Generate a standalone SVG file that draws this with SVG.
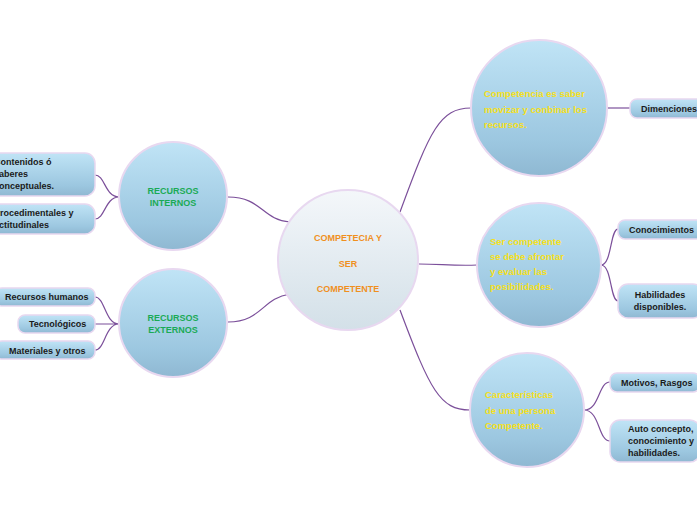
<svg xmlns="http://www.w3.org/2000/svg" width="697" height="520" viewBox="0 0 697 520">
<defs>
<linearGradient id="g" x1="0" y1="0" x2="0" y2="1"><stop offset="0" stop-color="#c0e4f6"/><stop offset="0.75" stop-color="#9cc7e0"/><stop offset="1" stop-color="#8fb8d2"/></linearGradient>
<linearGradient id="gc" x1="0" y1="0" x2="0" y2="1"><stop offset="0" stop-color="#f4f7fa"/><stop offset="1" stop-color="#d3e0e8"/></linearGradient>
</defs>
<style>
.n{fill:url(#g);stroke:#e8d8f0;stroke-width:2}
.l{fill:url(#g);stroke:#e8d8f0;stroke-width:1.5}
.c path{fill:none;stroke:#7b4f9a;stroke-width:1.2}
text{font-family:"Liberation Sans",sans-serif;font-weight:bold}
.t{font-size:9px;fill:#1a1a1a}
.g{font-size:9px;fill:#1aaa55;text-anchor:middle}
.y{font-size:9.5px;fill:#f5e020}
.o{font-size:9px;fill:#f0901e;text-anchor:middle}
</style>
<rect width="697" height="520" fill="#fff"/>
<g class="c">
<path d="M228 197 C262 197,262 220,290 222"/>
<path d="M228 322 C262 322,262 298,290 294"/>
<path d="M400 212 C430 130,440 108,471 108"/>
<path d="M419 264 C440 264,455 266,477 265"/>
<path d="M400 310 C430 390,440 410,470 410"/>
<path d="M119 197 C105 197,105 175,95 175 M119 197 C105 197,105 219,95 219"/>
<path d="M119 324 C105 324,105 297,95 297 M119 324 L95 324 M119 324 C105 324,105 350,95 350"/>
<path d="M607 108 L630 108"/>
<path d="M601 265 C612 265,610 229,618 229 M601 265 C612 265,610 301,618 301"/>
<path d="M584 410 C600 410,598 382,610 382 M584 410 C600 410,598 441,610 441"/>
</g>
<g id="center"><circle cx="348" cy="260" r="70" fill="url(#gc)" stroke="#e8d8f0" stroke-width="2"/>
<text class="o" x="348" y="241">COMPETECIA Y</text><text class="o" x="348" y="267">SER</text><text class="o" x="348" y="292">COMPETENTE</text></g>
<g id="internos"><circle class="n" cx="173" cy="196" r="54"/><text class="g" x="173" y="194">RECURSOS</text><text class="g" x="173" y="206">INTERNOS</text></g>
<g id="externos"><circle class="n" cx="173" cy="323" r="54"/><text class="g" x="173" y="321">RECURSOS</text><text class="g" x="173" y="333">EXTERNOS</text></g>
<g id="comp"><circle class="n" cx="539" cy="108" r="68"/><text class="y" x="484" y="97">Competencia es saber</text><text class="y" x="484" y="113">movizar y conbinar los</text><text class="y" x="484" y="128">recursos.</text></g>
<g id="ser"><circle class="n" cx="539" cy="265" r="62"/><text class="y" x="490" y="245">Ser competente</text><text class="y" x="490" y="260">se debe afrontar</text><text class="y" x="490" y="275">y evaluar las</text><text class="y" x="490" y="290">posibilidades.</text></g>
<g id="car"><circle class="n" cx="527" cy="410" r="57"/><text class="y" x="485" y="398">Características</text><text class="y" x="485" y="414">de una persona</text><text class="y" x="485" y="429">Competente.</text></g>
<g id="contenidos"><rect class="l" x="-15" y="153" width="110" height="43" rx="10"/><text class="t" x="-6" y="165">Contenidos ó</text><text class="t" x="-6" y="177">saberes</text><text class="t" x="-6" y="189">conceptuales.</text></g>
<g id="proced"><rect class="l" x="-15" y="204" width="110" height="30" rx="10"/><text class="t" x="-6" y="216">Procedimentales y</text><text class="t" x="-6" y="228">actitudinales</text></g>
<g id="humanos"><rect class="l" x="-5" y="288" width="100" height="18" rx="7"/><text class="t" x="5" y="300">Recursos humanos</text></g>
<g id="tecno"><rect class="l" x="18" y="315" width="77" height="18" rx="7"/><text class="t" x="29" y="327">Tecnológicos</text></g>
<g id="mat"><rect class="l" x="-5" y="341" width="100" height="18" rx="7"/><text class="t" x="9" y="354">Materiales y otros</text></g>
<g id="dim"><rect class="l" x="630" y="99" width="75" height="19" rx="7"/><text class="t" x="641" y="112">Dimenciones</text></g>
<g id="cono"><rect class="l" x="618" y="220" width="85" height="19" rx="7"/><text class="t" x="629" y="233">Conocimientos</text></g>
<g id="hab"><rect class="l" x="618" y="284" width="85" height="34" rx="10"/><text class="t" x="660" y="298" text-anchor="middle">Habilidades</text><text class="t" x="660" y="310" text-anchor="middle">disponibles.</text></g>
<g id="mot"><rect class="l" x="610" y="373" width="90" height="19" rx="7"/><text class="t" x="621" y="386">Motivos, Rasgos</text></g>
<g id="auto"><rect class="l" x="610" y="420" width="90" height="42" rx="10"/><text class="t" x="628" y="432">Auto concepto,</text><text class="t" x="628" y="444">conocimiento y</text><text class="t" x="628" y="456">habilidades.</text></g>
</svg>
